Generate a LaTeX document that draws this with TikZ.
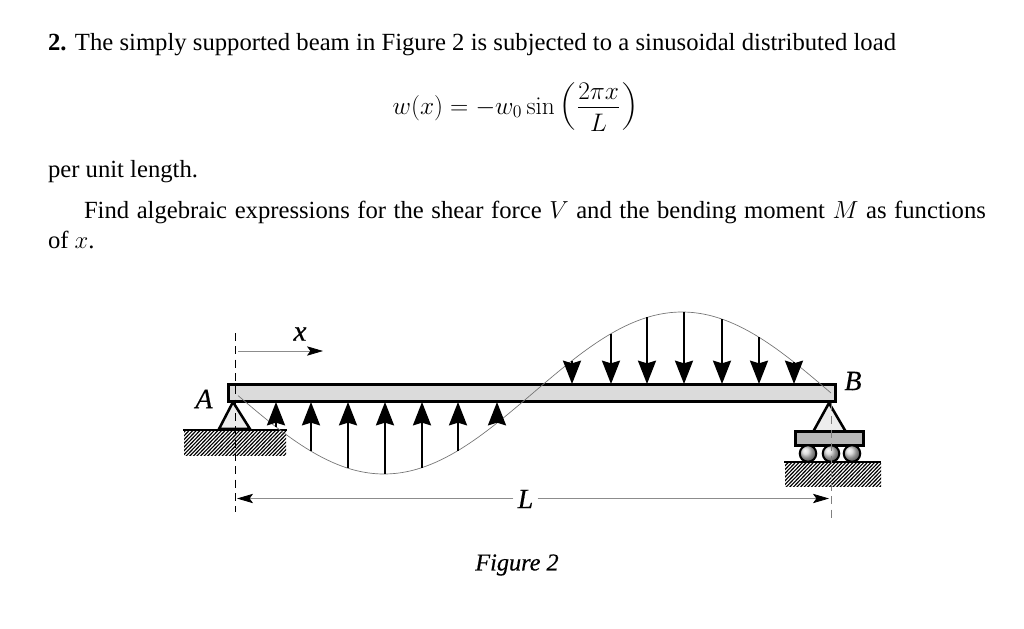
\documentclass[tikz,border=0pt]{standalone}
\usepackage{fix-cm}
\usepackage{amsmath}
\usepackage[no-math]{fontspec}
\setmainfont{Liberation Serif}
\newfontfamily\figfont[ItalicFeatures={FakeBold=0.4}]{Liberation Serif}
\usetikzlibrary{arrows.meta}
\newcommand{\flatparen}[1]{\raisebox{1.6pt}{\scalebox{0.95}[0.86]{$\displaystyle\left#1\vphantom{\frac{2\pi x}{L}}\right.$}}}
\newcommand{\flatparenr}[1]{\raisebox{1.6pt}{\scalebox{0.95}[0.86]{$\displaystyle\left.\vphantom{\frac{2\pi x}{L}}\right#1$}}}
\tikzset{
  x=0.75pt,y=-0.75pt,
  para/.style={anchor=base west,inner sep=0pt,outer sep=0pt,font=\fontsize{18.5}{20}\selectfont},
  figlabel/.style={inner sep=0pt,font=\fontsize{21}{22}\figfont\itshape},
  loadarrow/.style={line width=1.7pt,-{Stealth[length=17.5pt,width=13.5pt,inset=2pt]},black},
  thinarrow/.style={line width=0.6pt,draw=black!45,-{Stealth[length=12pt,width=7pt,inset=2.5pt,black]}},
  axisline/.style={line width=0.5pt,dash pattern=on 6pt off 4pt},
  curve/.style={line width=0.5pt,draw=black!55},
  support/.style={draw=black,line width=1.9pt,fill=black!7,line join=miter},
  groundline/.style={line width=2.2pt,black},
  hatchline/.style={line width=0.85pt,black},
  roller/.style={circle,draw=black,line width=1.5pt,inner sep=0pt,minimum size=16.5*0.75pt,ball color=black!18},
}
\begin{document}
\begin{tikzpicture}
\useasboundingbox (0,0) rectangle (1024,628);
\fill[white] (0,0) rectangle (1024,628);
% text
\node[para] (t1) at (48,50) {\makebox[636pt][s]{\textbf{2.} The simply supported beam in Figure 2 is subjected to a sinusoidal distributed load}};
\node[para,anchor=base,font=\fontsize{19}{22}\selectfont] (eq) at (515.5,114) {$\displaystyle w(x)=-w_0\sin\flatparen{(}\frac{\raisebox{0pt}[\height][0pt]{\raisebox{-2pt}{$2\pi x$}}}{L}\flatparenr{)}$};
\node[para] (t2) at (48,177) {per unit length.};
\node[para] (t3) at (84,218) {\makebox[676.5pt][s]{Find algebraic expressions for the shear force $V$ and the bending moment $M$ as functions}};
\node[para] (t4) at (48,248) {of $x$.};
% hatched grounds
\begin{scope}
\clip (184,431) rectangle (286,455);
\foreach \k in {0,3.6,...,140} \draw[hatchline] (160+\k,457) -- (187+\k,429);
\end{scope}
\begin{scope}
\clip (785,463) rectangle (881,486);
\foreach \k in {0,3.6,...,130} \draw[hatchline] (760+\k,488) -- (787+\k,460);
\end{scope}
\coordinate (gAl) at (183,430); \coordinate (gAr) at (287,430);
\coordinate (gBl) at (784,462); \coordinate (gBr) at (881,462);
\draw[groundline] (gAl) -- (gAr);
\draw[groundline] (gBl) -- (gBr);
% supports
\draw[support] (233,402) -- (219,429) -- (250,429) -- cycle;
\draw[support] (829,403) -- (813,432) -- (846,432) -- cycle;
\node[draw=black,line width=1.7pt,fill=black!28,inner sep=0pt,minimum width=68*0.75pt,minimum height=14*0.75pt] (cart) at (829.5,438.5) {};
\node[roller] (r1) at (808,453.5) {};
\node[roller] (r2) at (831,453.5) {};
\node[roller] (r3) at (852,453.5) {};
% beam
\node[draw=black,line width=1.7pt,fill=black!14,inner sep=0pt,minimum width=607*0.75pt,minimum height=17*0.75pt] (beam) at (532,393) {};
% axes
\coordinate (aT) at (235,333); \coordinate (aB) at (235,512);
\coordinate (bT) at (831.5,403); \coordinate (bB) at (831.5,518);
\draw[axisline,black] (aT) -- (aB);
\draw[axisline,black!50] (bT) -- (bB);
% sine load curve
\draw[curve,domain=238:831,samples=160,smooth,variable=\t] plot ({\t},{393+81*sin(360/596*(\t-235))});
% load arrows
\foreach \px/\n in {276/a,311/b,348/c,385/d,422/e,458/f,497/g}{
  \pgfmathsetmacro{\py}{393+81*sin(360/596*(\px-235))}
  \coordinate (u\n) at (\px,\py);
  \coordinate (ut\n) at (\px,402);
  \draw[loadarrow] (u\n) -- (ut\n);
}
\foreach \px/\n in {572/a,611/b,647/c,684/d,722/e,759/f,794/g}{
  \pgfmathsetmacro{\py}{393+81*sin(360/596*(\px-235))}
  \coordinate (d\n) at (\px,\py);
  \coordinate (dt\n) at (\px,384);
  \draw[loadarrow] (d\n) -- (dt\n);
}
% x axis arrow
\coordinate (xa) at (238,351); \coordinate (xb) at (323,351);
\draw[thinarrow] (xa) -- (xb);
\node[figlabel,font=\fontsize{22}{22}\figfont\itshape] (xlab) at (300,334) {x};
% dimension
\node[figlabel] (Llab) at (525.5,499) {L};
\coordinate (dl) at (237,498.5); \coordinate (dr) at (829,498.5);
\draw[thinarrow] (Llab.west) ++(-4,-0.5) -- (dl);
\draw[thinarrow] (Llab.east) ++(4,-0.5) -- (dr);
% labels
\node[figlabel] (A) at (204,399) {A};
\node[figlabel] (B) at (853,381) {B};
\node[figlabel,font=\fontsize{18.2}{20}\figfont\itshape] (fig) at (517,565) {Figure 2};
\end{tikzpicture}
\end{document}
